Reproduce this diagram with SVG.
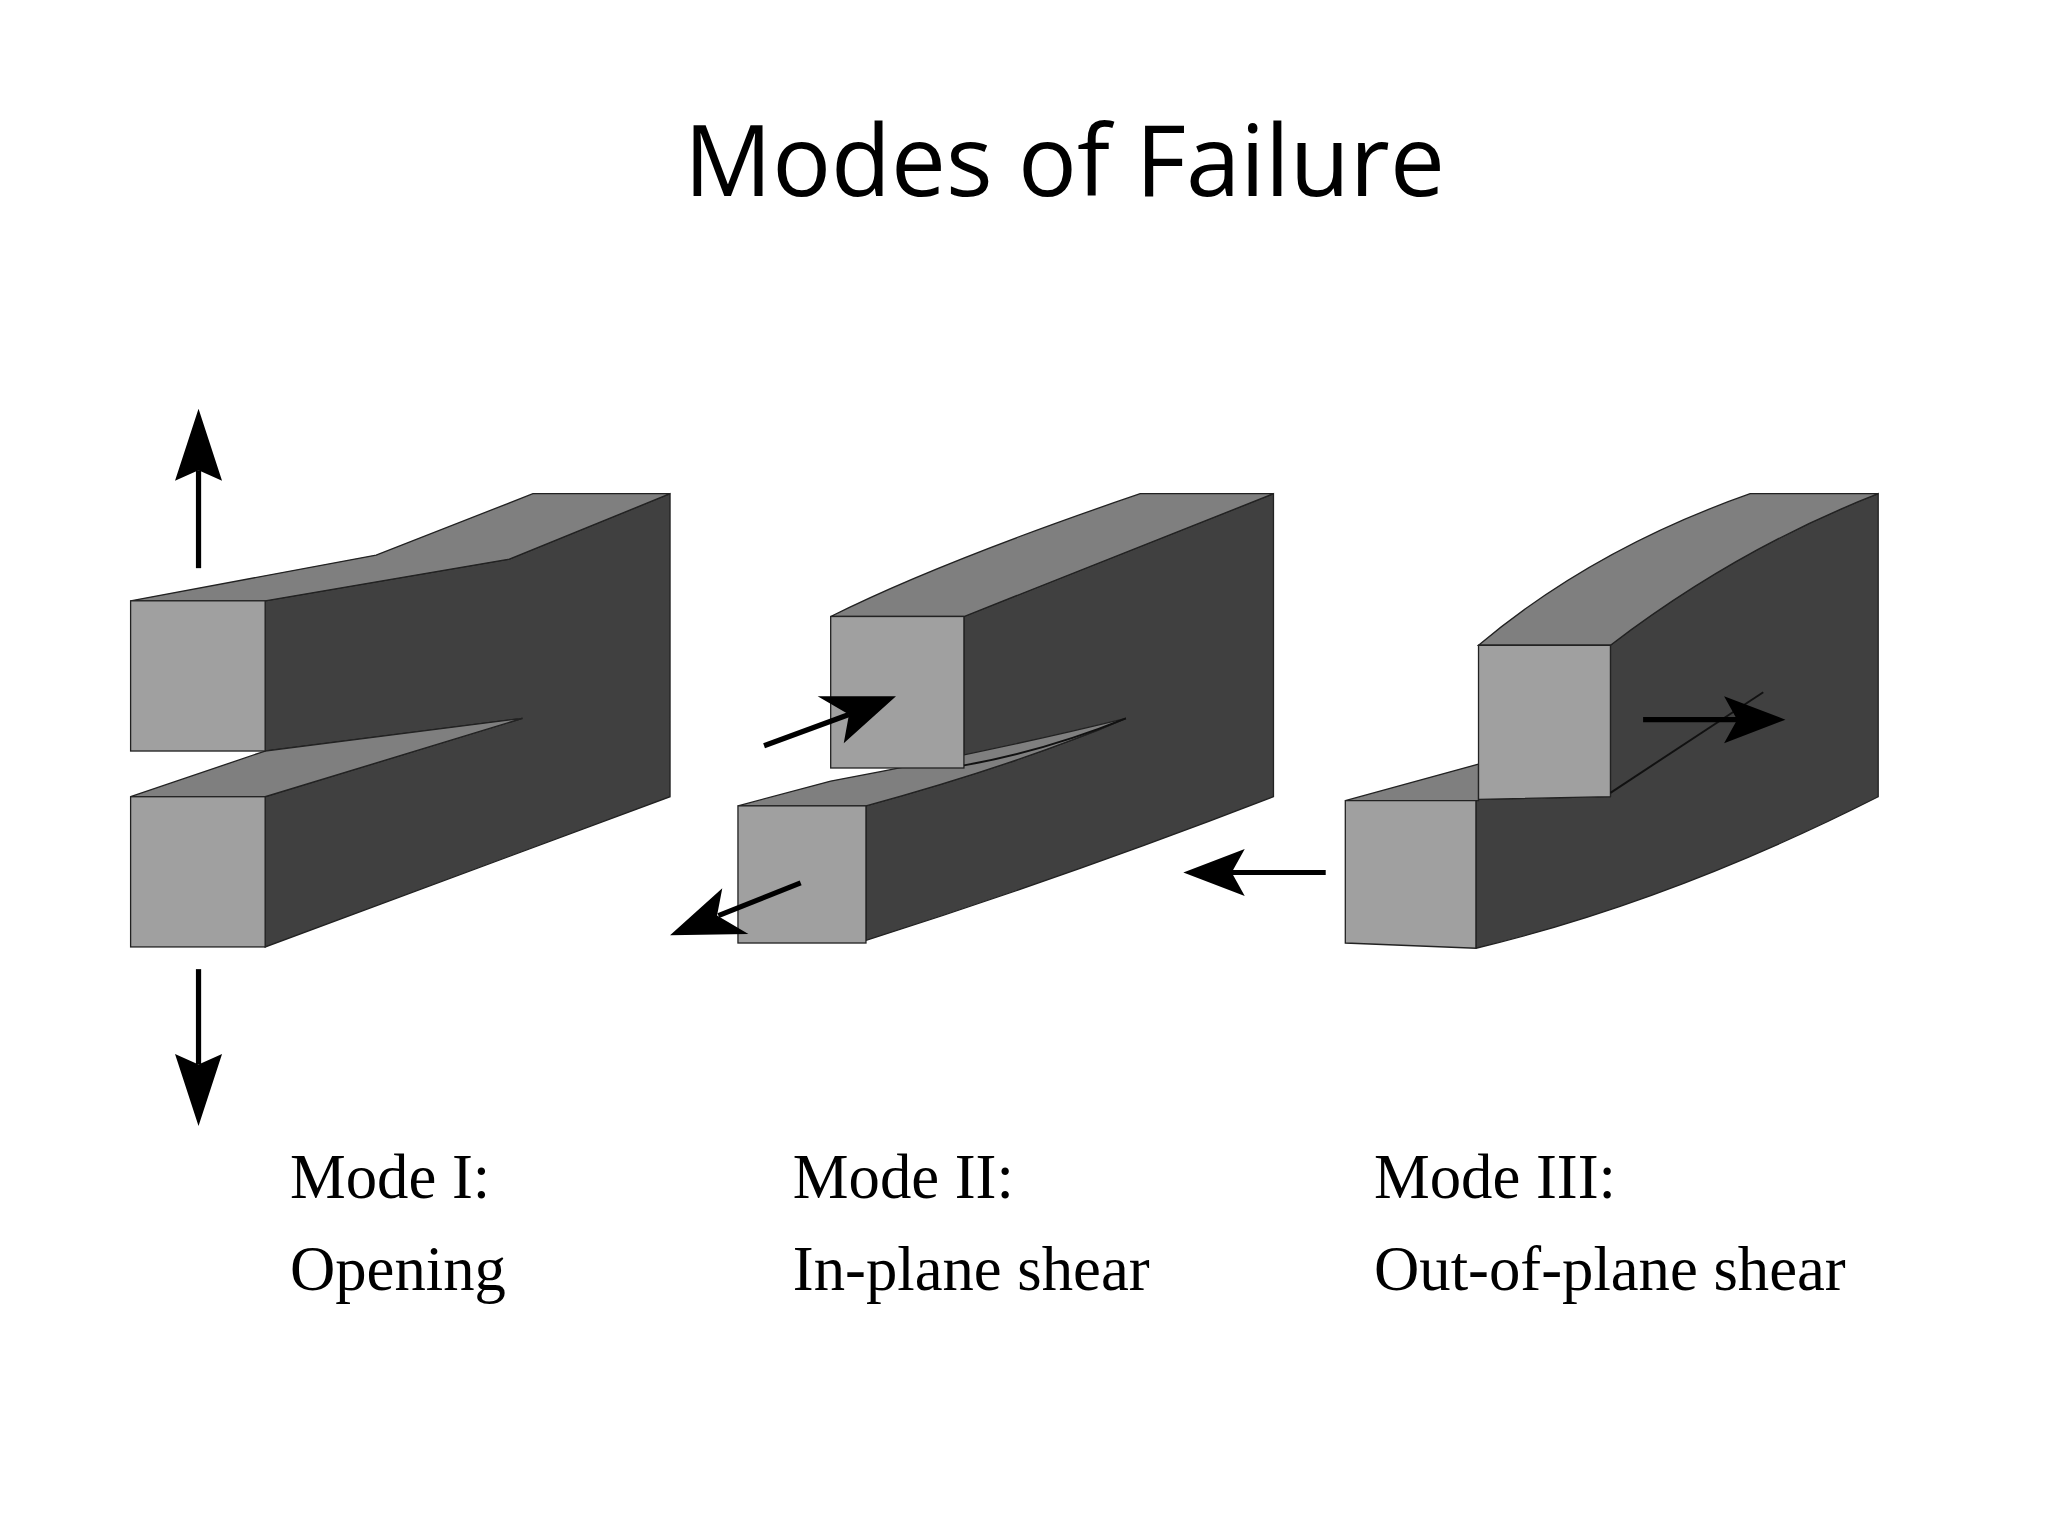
<svg xmlns="http://www.w3.org/2000/svg" width="2048" height="1536" viewBox="0 0 2048 1536">
<style>
.dk{fill:#404040;stroke:#222;stroke-width:1}
.tp{fill:#7f7f7f;stroke:#222;stroke-width:1}
.fr{fill:#a0a0a0;stroke:#222;stroke-width:1}
.ar{stroke:#000;stroke-width:4;fill:none}
.hd{fill:#000}
.lb{font-family:"Liberation Serif",serif;font-size:48px;fill:#000}
</style>
<rect width="2048" height="1536" fill="#fff"/>
<g transform="scale(1.30612)">
<text x="815" y="150" text-anchor="middle" style="font-family:'Open Sans',sans-serif;font-size:75px;fill:#000">Modes of Failure</text>
<g id="mode1">
<polygon class="dk" points="203,460 390,428 513,378 513,610 203,725 203,610 400,550 203,575"/>
<polygon class="tp" points="100,460 288,425 408,378 513,378 390,428 203,460"/>
<polygon class="tp" points="100,610 203,575 400,550 203,610"/>
<rect class="fr" x="100" y="460" width="103" height="115"/>
<rect class="fr" x="100" y="610" width="103" height="115"/>
</g>
<g id="mode2">
<path class="dk" d="M738,472 L975,378 L975,610 Q820,670 663,720 L663,617 Q780,585 862,550 Q800,578 738,588 Z"/>
<path class="tp" d="M636,472 Q720,430 873,378 L975,378 L738,472 Z"/>
<path class="tp" d="M565,617 L636,598 Q760,575 862,550 Q780,585 663,617 Z"/>
<rect class="fr" x="636" y="472" width="102" height="116"/>
<rect class="fr" x="565" y="617" width="98" height="105"/>
<path d="M738,586 Q800,575 862,550" stroke="#111" stroke-width="1.5" fill="none"/>
</g>
<g id="mode3">
<path class="dk" d="M1233,494 Q1330,420 1438,378 L1438,610 Q1280,690 1130,726 L1130,613 L1132,612 L1233,610 Z"/>
<path class="tp" d="M1132,494 Q1220,420 1340,378 L1438,378 Q1330,420 1233,494 Z"/>
<polygon class="tp" points="1030,613 1132,585 1132,613"/>
<polygon class="fr" points="1132,494 1233,494 1233,610 1132,612"/>
<polygon class="fr" points="1030,613 1130,613 1130,726 1030,722"/>
<path d="M1233,607 L1350,530" stroke="#111" stroke-width="1.5" fill="none"/>
</g>
<g id="connectors">
<line class="ar" x1="152" y1="435" x2="152" y2="360"/>
<polygon class="hd" points="152,313 170,368 152,360 134,368"/>
<line class="ar" x1="152" y1="742" x2="152" y2="815"/>
<polygon class="hd" points="152,862 170,807 152,815 134,807"/>
<line class="ar" x1="585" y1="571" x2="650" y2="547"/>
<polygon class="hd" points="686,533 646,569 650,547 626,533"/>
<line class="ar" x1="613" y1="676" x2="550" y2="701"/>
<polygon class="hd" points="513,716 553,680 549,701 573,715"/>
<line class="ar" x1="1258" y1="551" x2="1335" y2="551"/>
<polygon class="hd" points="1367,551 1320,533 1330,551 1320,569"/>
<line class="ar" x1="1015" y1="668" x2="938" y2="668"/>
<polygon class="hd" points="906,668 953,650 943,668 953,686"/>
</g>
<text class="lb" x="222" y="917">Mode I:</text>
<text class="lb" x="222" y="988">Opening</text>
<text class="lb" x="607" y="917">Mode II:</text>
<text class="lb" x="607" y="988">In-plane shear</text>
<text class="lb" x="1052" y="917">Mode III:</text>
<text class="lb" x="1052" y="988">Out-of-plane shear</text>
</g>
</svg>
